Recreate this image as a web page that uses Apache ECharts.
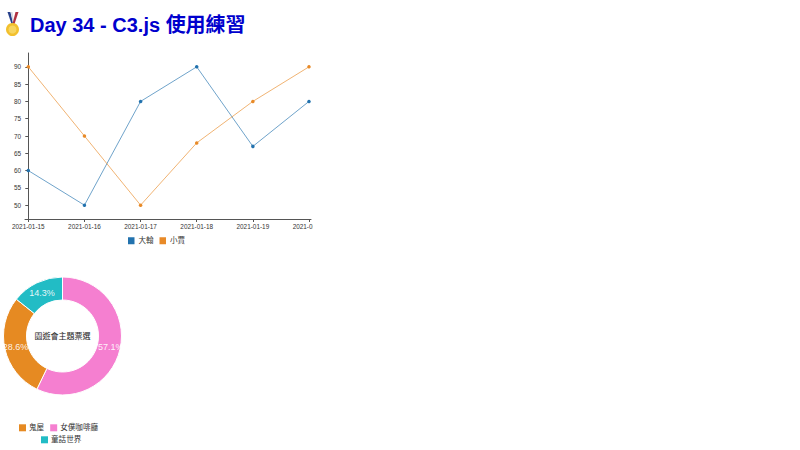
<!DOCTYPE html>
<html><head><meta charset="utf-8">
<style>html,body{margin:0;padding:0;background:#fff;overflow:hidden}
#main{position:absolute;left:0;top:0;width:800px;height:450px}
#line{position:absolute;left:0;top:0;width:313px;height:260px}</style>
<script src="https://cdn.jsdelivr.net/npm/echarts@6/dist/echarts.min.js"></script>
</head><body><div id="main"></div><div id="line"></div>
<script>
const titleText = 'Day 34 - C3.js 使用練習';
const dates = ['2021-01-15','2021-01-16','2021-01-17','2021-01-18','2021-01-19','2021-01-20'];
const johnValues = [60,50,80,90,67,80];
const mayValues = [90,70,50,68,80,90];
const yTicks = [50,55,60,65,70,75,80,85,90];
const lineNames = ['大翰','小賈'];
const pieNames = ['女僕咖啡廳','鬼屋','童話世界'];
const pieValues = [4,2,1];
const pieCenterText = '園遊會主題票選';
const legendRow1 = ['鬼屋','女僕咖啡廳'];
const legendRow2 = ['童話世界'];

const F = '"Liberation Sans","Noto Sans CJK TC",sans-serif';
const dayIndex = dates.map((d,i)=>i);
const pieCx = 62.5, pieCy = 336;

const main = echarts.init(document.getElementById('main'), null, {renderer:'svg'});
main.setOption({
  animation:false,
  title:{text:titleText,left:30,top:15,padding:0,textStyle:{fontFamily:F,fontSize:20,fontWeight:'bold',color:'#0000cd'}},
  graphic:[
    {type:'polygon',shape:{points:[[7.5,12],[10.5,12],[13.5,24],[11.5,24]]},style:{fill:'#27408b'}},
    {type:'polygon',shape:{points:[[10.5,12],[12.5,12],[14,22],[13,24]]},style:{fill:'#d8d8e0'}},
    {type:'polygon',shape:{points:[[15.5,12],[18.5,12],[14.5,24],[12.5,24]]},style:{fill:'#b03040'}},
    {type:'circle',shape:{cx:12.5,cy:29.5,r:6.5},style:{fill:'#f2c02e'}},
    {type:'circle',shape:{cx:12.5,cy:29.5,r:4},style:{fill:'#f7d560'}}
  ],
  legend:[
    {data:legendRow1,left:19,top:424,padding:0,itemWidth:7,itemHeight:7,itemGap:6,selectedMode:false,icon:'rect',
     itemStyle:{borderWidth:0},textStyle:{fontFamily:F,fontSize:7.6,color:'#333',padding:[0,0,0,-2]}},
    {data:legendRow2,left:41,top:436,padding:0,itemWidth:7,itemHeight:7,itemGap:6,selectedMode:false,icon:'rect',
     itemStyle:{borderWidth:0},textStyle:{fontFamily:F,fontSize:7.6,color:'#333',padding:[0,0,0,-2]}}
  ],
  series:[{
    type:'pie',center:[pieCx,pieCy],radius:[36,59],startAngle:90,clockwise:true,
    color:['#f57fd0','#e68a22','#22bcc5'],
    itemStyle:{borderColor:'#fff',borderWidth:1},
    label:{position:'inside',formatter:p=>p.percent.toFixed(1)+'%',color:'#fff',fontFamily:F,fontSize:9,fontWeight:'normal',textBorderWidth:0,opacity:0.9},
    labelLayout:p=>({
      dx:(pieCx-(p.rect.x+p.rect.width/2))*0.06,
      dy:(pieCy-(p.rect.y+p.rect.height/2))*0.06
    }),
    percentPrecision:1,
    labelLine:{show:false},
    silent:true,
    data:pieNames.map((n,i)=>({name:n,value:pieValues[i]}))
  },{
    type:'pie',center:[pieCx,pieCy],radius:[0,1],silent:true,
    data:[{name:pieCenterText,value:1,itemStyle:{color:'transparent'}}],
    label:{position:'center',formatter:'{b}',color:'#222',fontFamily:F,fontSize:8},
    labelLine:{show:false}
  }]
});

const chart = echarts.init(document.getElementById('line'), null, {renderer:'svg'});
const axisColor = '#555';
chart.setOption({
  animation:false,
  grid:{left:25,top:53,width:286,height:166,outerBoundsMode:'none'},
  legend:{data:lineNames,left:128,top:237,padding:0,itemWidth:6.5,itemHeight:7,itemGap:6,selectedMode:false,icon:'rect',
    itemStyle:{borderWidth:0},textStyle:{fontFamily:F,fontSize:7.5,color:'#333',padding:[0,0,0,-1]}},
  xAxis:{type:'value',min:-0.059,max:5.036,
    axisLine:{lineStyle:{color:axisColor,width:1}},splitLine:{show:false},
    axisTick:{customValues:dayIndex,length:3,lineStyle:{color:axisColor}},
    axisLabel:{customValues:dayIndex,hideOverlap:false,margin:4,fontFamily:F,fontSize:6.4,color:'#333',
      formatter:v=>dates[v]}},
  yAxis:{type:'value',min:46,max:94,
    axisLine:{show:true,lineStyle:{color:axisColor,width:1}},splitLine:{show:false},
    axisTick:{show:true,customValues:yTicks,length:3,lineStyle:{color:axisColor}},
    axisLabel:{customValues:yTicks,margin:4,fontFamily:F,fontSize:6.4,color:'#333'}},
  series:[
    {name:lineNames[0],type:'line',color:'#2272ae',symbol:'circle',symbolSize:3.5,
     lineStyle:{width:1,opacity:0.65},data:dayIndex.map(i=>[i,johnValues[i]])},
    {name:lineNames[1],type:'line',color:'#e88a28',symbol:'circle',symbolSize:3.5,
     lineStyle:{width:1,opacity:0.65},data:dayIndex.map(i=>[i,mayValues[i]])}
  ]
});
</script></body></html>
